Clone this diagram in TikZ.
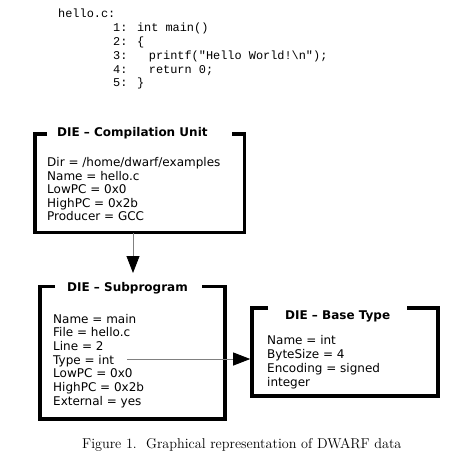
\documentclass[tikz,border=0pt]{standalone}
\usepackage{fontspec}
\newfontfamily\dvsans{DejaVu Sans}
\newfontfamily\codemono{Liberation Mono}
\usetikzlibrary{arrows.meta}
\tikzset{
  frame/.style={draw=black, line width=3.6pt, line cap=butt, line join=miter},
  boxnode/.style={rectangle, draw=none, inner sep=0pt, outer sep=0pt},
  title/.style={anchor=base west, inner sep=0pt, font=\dvsans\bfseries\fontsize{12}{14}\selectfont},
  body/.style={anchor=base west, inner sep=0pt, font=\dvsans\fontsize{12}{14}\selectfont},
  code/.style={anchor=base west, inner sep=0pt, font=\codemono\fontsize{11.9}{14}\selectfont},
  conn/.style={draw=black!50, line width=0.8pt, -{Triangle[length=17pt,width=13pt,color=black]}},
  caption/.style={anchor=base west, inner sep=0pt, font=\fontsize{14.2}{17}\selectfont}
}
\begin{document}
\begin{tikzpicture}[x=1pt,y=-1pt]
\path[use as bounding box] (0,0) rectangle (474,468);

% source code
\node[code] (src) at (58,18) {hello.c:};
\node[code] (l1) at (113,32) {1: int main()};
\node[code] (l2) at (113,45.75) {2: \{};
\node[code] (l3) at (113,59.5) {3:\ \ \ printf("Hello World!\textbackslash n");};
\node[code] (l4) at (113,73.25) {4:\ \ \ return 0;};
\node[code] (l5) at (113,87) {5: \}};

% frames
\node[boxnode, minimum width=209.5pt, minimum height=98.5pt] (cu) at (139.75,183.25) {};
\node[boxnode, minimum width=185pt, minimum height=132.5pt] (sp) at (132.5,352.75) {};
\node[boxnode, minimum width=186pt, minimum height=88pt] (bt) at (345,352) {};

\draw[frame] ([xshift=12pt]cu.north west) -- (cu.north west) -- (cu.south west)
  -- (cu.south east) -- (cu.north east) -- ([xshift=-12.5pt]cu.north east);
\draw[frame] ([xshift=15pt]sp.north west) -- (sp.north west) -- (sp.south west)
  -- (sp.south east) -- (sp.north east) -- ([xshift=-23pt]sp.north east);
\draw[frame] ([xshift=16pt]bt.north west) -- (bt.north west) -- (bt.south west)
  -- (bt.south east) -- (bt.north east) -- ([xshift=-31pt]bt.north east);

% titles
\node[title] (cut) at (57,137) {DIE – Compilation Unit};
\node[title] (spt) at (67,291.5) {DIE – Subprogram};
\node[title] (btt) at (285,319) {DIE – Base Type};

% bodies
\foreach \t [count=\i] in {Dir = /home/dwarf/examples, Name = hello.c, LowPC = 0x0, HighPC = 0x2b, Producer = GCC}
  \node[body] (cu-\i) at (47,{167+13.4*(\i-1)}) {\t};
\foreach \t [count=\i] in {Name = main, File = hello.c, Line = 2, Type = int, LowPC = 0x0, HighPC = 0x2b, External = yes}
  \node[body] (sp-\i) at (53,{323+13.67*(\i-1)}) {\t};
\foreach \t [count=\i] in {Name = int, ByteSize = 4, Encoding = signed, integer}
  \node[body] (bt-\i) at (267,{344+14*(\i-1)}) {\t};

% connectors
\coordinate (downEnd) at (133,273);
\draw[conn] (downEnd |- cu.south) -- (downEnd);
\coordinate (typeStart) at ([shift={(13pt,5pt)}]sp-4.base east);
\draw[conn, shorten >=1.8pt] (typeStart) -- (typeStart -| bt.west);

% caption
\node[caption] (cap) at (82,448) {Figure 1.\ \ Graphical representation of DWARF data};
\end{tikzpicture}
\end{document}
